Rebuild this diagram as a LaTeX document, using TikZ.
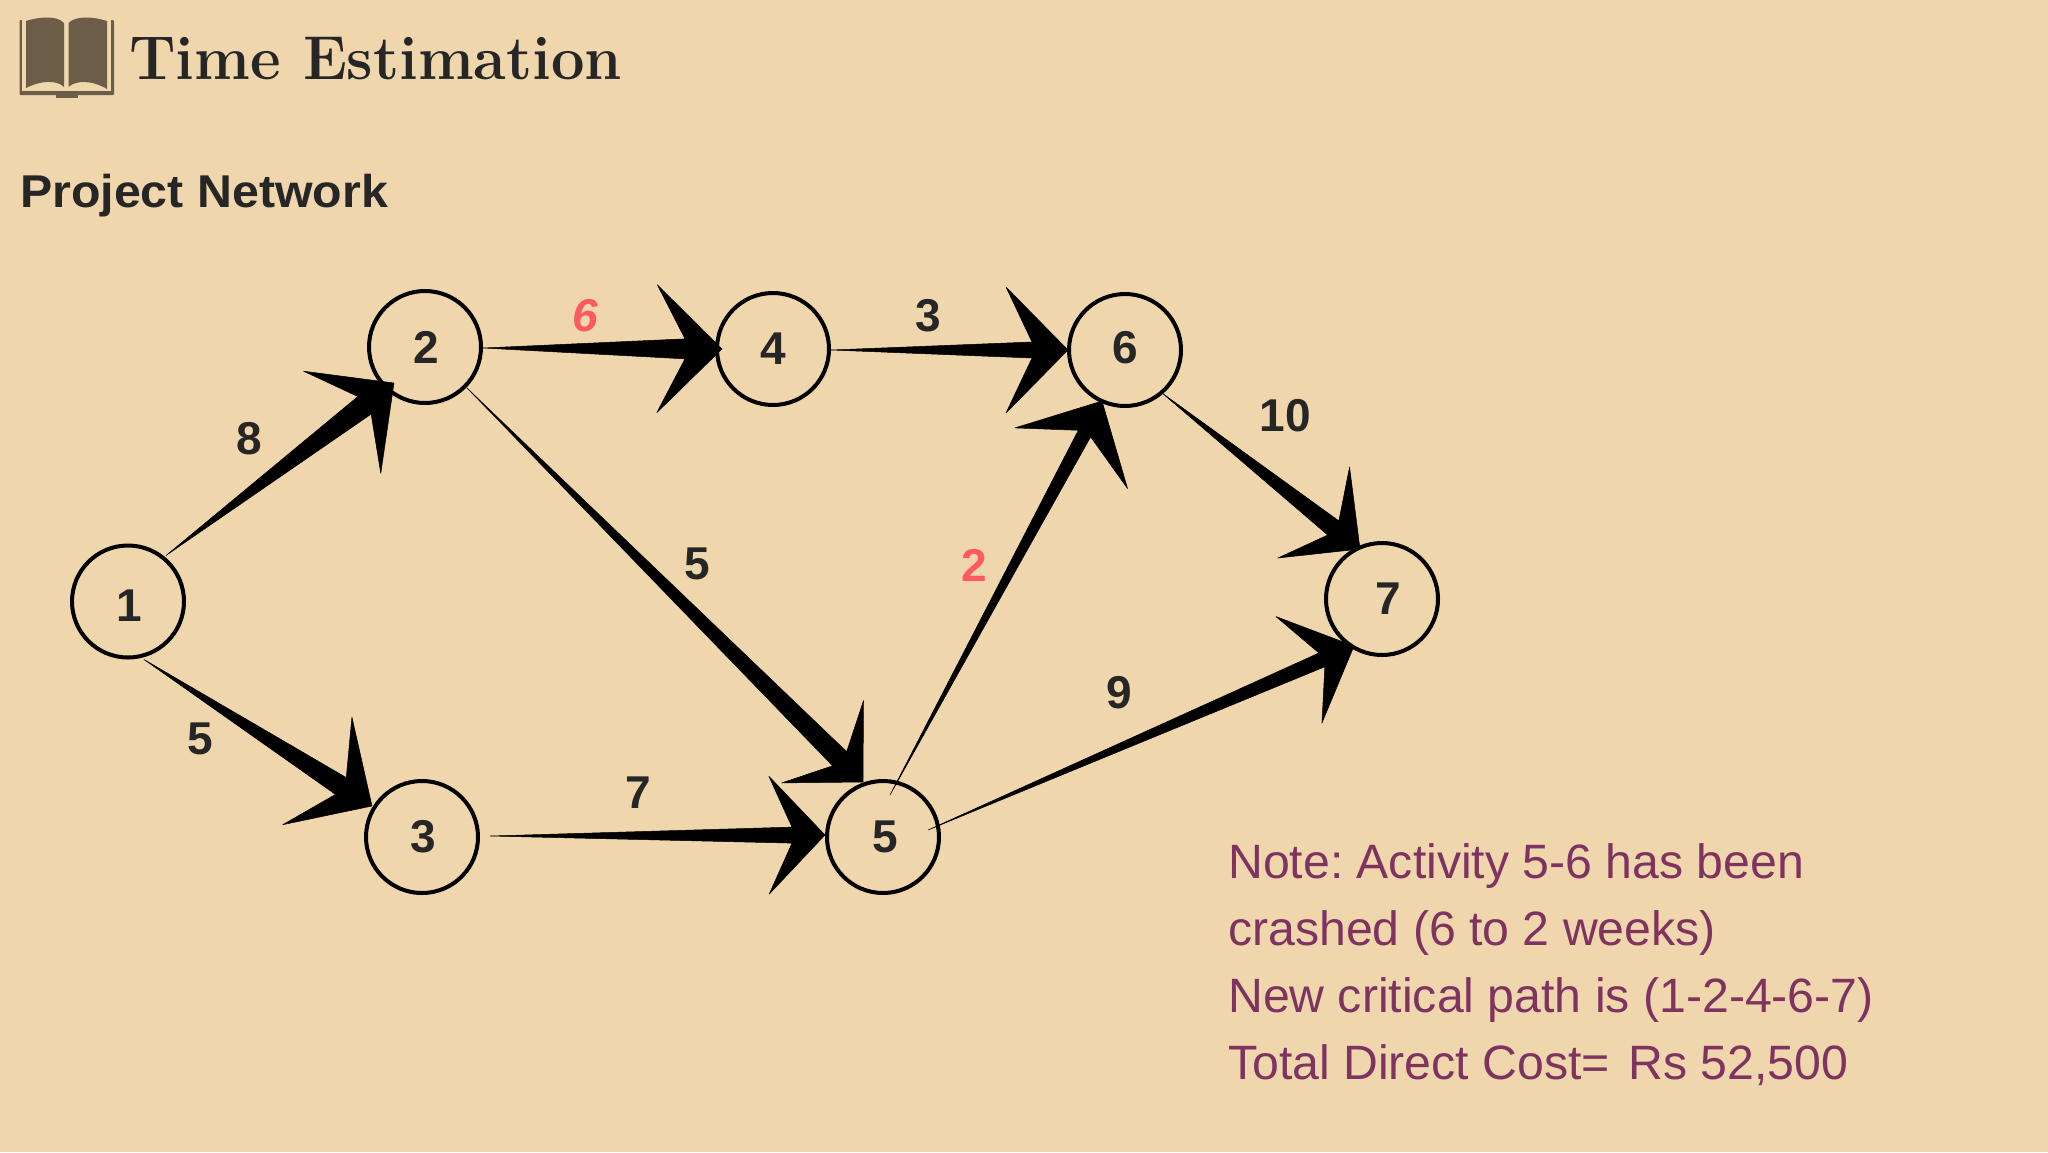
\documentclass[tikz,border=0pt]{standalone}
\usepackage{fontspec}
\setmainfont{Liberation Sans}
\newfontfamily\titlefont[FakeStretch=0.96]{Latin Modern Roman}
\newfontfamily\subfont[FakeStretch=1.05]{Liberation Sans Bold}
\usetikzlibrary{calc}
\definecolor{bgc}{HTML}{EFD6AC}
\definecolor{inkc}{HTML}{262626}
\definecolor{redc}{HTML}{FF5A5F}
\definecolor{notec}{HTML}{7E3360}
\definecolor{bookc}{HTML}{6B5D47}
\tikzset{
  circ/.style={circle,draw=black,line width=4pt,minimum size=112pt,inner sep=0pt,
    font=\fontsize{46}{46}\bfseries,text=inkc},
  num/.style={inner sep=0pt,font=\fontsize{46}{46}\bfseries,text=inkc},
  rednum/.style={num,text=redc},
  notetxt/.style={anchor=base west,inner sep=0pt,text=notec,font=\fontsize{48.2}{48.2}\selectfont},
  wedgearrow/.style n args={4}{fill=black,draw=black,line width=0.5pt,line join=round,to path={
    -- ($(\tikztotarget)!#4!(\tikztostart)!#1!90:(\tikztotarget)$)
    -- ($(\tikztotarget)!#2!(\tikztostart)!#3!90:(\tikztotarget)$)
    -- (\tikztotarget)
    -- ($(\tikztotarget)!#2!(\tikztostart)!-#3!90:(\tikztotarget)$)
    -- ($(\tikztotarget)!#4!(\tikztostart)!-#1!90:(\tikztotarget)$)
    -- cycle}}
}
\frenchspacing
\begin{document}
\begin{tikzpicture}[x=1pt,y=-1pt]
\useasboundingbox (0,0) rectangle (2048,1152);
\fill[bgc] (0,0) rectangle (2048,1152);
% book icon
\fill[bookc,rounded corners=1pt] (19.5,20) rectangle (114,95);
\fill[bookc] (55.5,94) rectangle (78,98);
\fill[bgc] (22,20) rectangle (111,90.5);
\fill[bookc] (26,21) .. controls (38,17) and (57,15) .. (64,23) -- (64,87)
  .. controls (57,80) and (42,80) .. (26,88) -- cycle;
\fill[bookc] (68.5,23) .. controls (76,15) and (95,17) .. (107,21) -- (107,89)
  .. controls (92,80) and (76,80) .. (68.5,87) -- cycle;
% headings
\node[anchor=base west,inner sep=0pt,text=inkc,font=\titlefont\bfseries\fontsize{62}{62}\selectfont] (title) at (129,79) {Time Estimation};
\node[anchor=base west,inner sep=0pt,text=inkc,font=\subfont\fontsize{46}{46}\selectfont] (sub) at (20,207.5) {Project Network};
% nodes
\node[circ] (n1) at (128,601.5) {\raisebox{-20pt}[30pt][30pt]{\kern2pt 1}};
\node[circ] (n2) at (425,347) {\kern2pt 2};
\node[circ] (n3) at (422,837) {\kern2pt 3};
\node[circ] (n4) at (773,349) {4};
\node[circ] (n5) at (883,837) {\kern4pt 5};
\node[circ] (n6) at (1125,350) {\raisebox{-13.4pt}[30pt][30pt]{6}};
\node[circ] (n7) at (1382,599) {\kern12pt 7};
% connector ends
\coordinate (a12) at ($(n1)+(38,-46)$);   \coordinate (b12) at ($(n2)+(-31,36)$);
\coordinate (a13) at ($(n1)+(16,58)$);    \coordinate (b13) at ($(n3)+(-50,-31)$);
\coordinate (a24) at ($(n2)+(58,1)$);     \coordinate (b24) at ($(n4)+(-51,0)$);
\coordinate (a25) at ($(n2)+(42,41)$);    \coordinate (b25) at ($(n5)+(-20,-55)$);
\coordinate (a35) at ($(n3)+(68,-1)$);    \coordinate (b35) at ($(n5)+(-58,-2)$);
\coordinate (a46) at ($(n4)+(58,1)$);     \coordinate (b46) at ($(n6)+(-57,0)$);
\coordinate (a56) at ($(n5)+(7,-42)$);    \coordinate (b56) at ($(n6)+(-23,51)$);
\coordinate (a57) at ($(n5)+(45,-7)$);    \coordinate (b57) at ($(n7)+(-28,47)$);
\coordinate (a67) at ($(n6)+(37,43)$);    \coordinate (b67) at ($(n7)+(-22,-50)$);
% connectors
\path[wedgearrow={11pt}{65pt}{64pt}{37pt}] (a12) to (b12);
\path[wedgearrow={10pt}{65pt}{64pt}{37pt}] (a13) to (b13);
\path[wedgearrow={10pt}{65pt}{64pt}{37pt}] (a24) to (b24);
\path[wedgearrow={10pt}{57pt}{58pt}{33pt}] (a25) to (b25);
\path[wedgearrow={8pt}{56pt}{59pt}{33pt}] (a35) to (b35);
\path[wedgearrow={8pt}{62pt}{63pt}{36pt}] (a46) to (b46);
\path[wedgearrow={7pt}{65pt}{64pt}{37pt}] (a56) to (b56);
\path[wedgearrow={7.5pt}{60pt}{58pt}{35pt}] (a57) to (b57);
\path[wedgearrow={9pt}{59pt}{58pt}{34pt}] (a67) to (b67);
% edge labels
\node[num] (l12) at (249,439) {8};
\node[num] (l13) at (200,739) {5};
\node[rednum,font=\fontsize{46}{46}\bfseries\itshape] (l24) at (585,315.5) {6};
\node[num] (l46) at (928,315.5) {3};
\node[num] (l25) at (697,564) {5};
\node[rednum] (l56) at (974,565) {2};
\node[num] (l57) at (1119,693) {9};
\node[num] (l35) at (638,793) {7};
\node[num] (l67) at (1285,416) {10};
% note
\node[notetxt] (t1) at (1228,878.5) {Note: Activity 5-6 has been};
\node[notetxt] (t2) at (1228,945.5) {crashed (6 to 2 weeks)};
\node[notetxt] (t3) at (1228,1012.5) {New critical path is (1-2-4-6-7)};
\node[notetxt] (t4) at (1228,1079.5) {Total Direct Cost=\kern5pt{} Rs 52,500};
\end{tikzpicture}
\end{document}
